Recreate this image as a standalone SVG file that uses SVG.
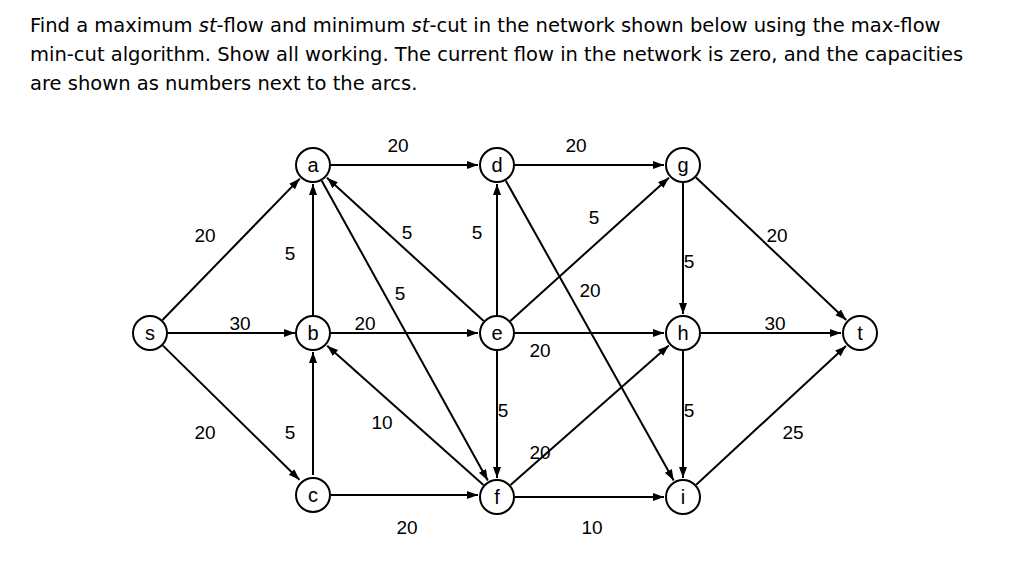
<svg xmlns="http://www.w3.org/2000/svg" width="1024" height="578" viewBox="0 0 1024 578">
<style>
.hd{font-family:"DejaVu Sans","Liberation Sans",sans-serif;font-size:19.5px;fill:#000}
.n circle{fill:#fff;stroke:#000;stroke-width:2}
.n text{font-family:"Liberation Sans",Arial,sans-serif;font-size:20px;text-anchor:middle;dominant-baseline:central}
.lb{font-family:"Liberation Sans",Arial,sans-serif;font-size:19px;text-anchor:middle}
#edges line{stroke:#000;stroke-width:2;marker-end:url(#ah)}
</style>
<defs><marker id="ah" markerUnits="userSpaceOnUse" markerWidth="12" markerHeight="10" refX="11" refY="4" orient="auto"><path d="M0,0 L11,4 L0,8 z" fill="#000"/></marker></defs>
<rect width="1024" height="578" fill="#fff"/>
<text class="hd" x="30" y="32">Find a maximum <tspan font-style="italic">st</tspan>-flow and minimum <tspan font-style="italic">st</tspan>-cut in the network shown below using the max-flow</text>
<text class="hd" x="30" y="61">min-cut algorithm. Show all working. The current flow in the network is zero, and the capacities</text>
<text class="hd" x="30" y="90">are shown as numbers next to the arcs.</text>
<g id="edges">
<line x1="162.5" y1="320" x2="299.8" y2="178.6"/>
<line x1="168" y1="333" x2="295" y2="333"/>
<line x1="162.9" y1="345.6" x2="299.4" y2="479.7"/>
<line x1="331" y1="165" x2="478" y2="165"/>
<line x1="515" y1="165" x2="664" y2="165"/>
<line x1="696" y1="177.4" x2="846.2" y2="319.9"/>
<line x1="701" y1="333" x2="841" y2="333"/>
<line x1="696.2" y1="484.8" x2="846" y2="345.9"/>
<line x1="313" y1="315" x2="313" y2="184"/>
<line x1="313" y1="475" x2="313" y2="352"/>
<line x1="321.7" y1="180.7" x2="487.8" y2="480.4"/>
<line x1="483.5" y1="485" x2="327.2" y2="345.7"/>
<line x1="483.7" y1="320.9" x2="327" y2="177.8"/>
<line x1="331" y1="333" x2="478" y2="333"/>
<line x1="497" y1="315" x2="497" y2="184"/>
<line x1="510.3" y1="321" x2="668.9" y2="177.7"/>
<line x1="515" y1="333" x2="664" y2="333"/>
<line x1="497" y1="351" x2="497" y2="478"/>
<line x1="505.8" y1="180.7" x2="673.7" y2="480.4"/>
<line x1="510.5" y1="485.1" x2="668.8" y2="345.6"/>
<line x1="331" y1="495" x2="478" y2="495"/>
<line x1="515" y1="497" x2="664" y2="497"/>
<line x1="683" y1="183" x2="683" y2="314"/>
<line x1="683" y1="351" x2="683" y2="478"/>
</g>
<g id="labels">
<text class="lb" x="398" y="152">20</text><text class="lb" x="576" y="152">20</text>
<text class="lb" x="205" y="242">20</text><text class="lb" x="290" y="260">5</text>
<text class="lb" x="407" y="239">5</text><text class="lb" x="477" y="239">5</text>
<text class="lb" x="594" y="224">5</text><text class="lb" x="777" y="242">20</text>
<text class="lb" x="689" y="268">5</text><text class="lb" x="400" y="300">5</text>
<text class="lb" x="590" y="297">20</text><text class="lb" x="240" y="330">30</text>
<text class="lb" x="365" y="330">20</text><text class="lb" x="540" y="357">20</text>
<text class="lb" x="775" y="330">30</text><text class="lb" x="205" y="439">20</text>
<text class="lb" x="290" y="439">5</text><text class="lb" x="382" y="429">10</text>
<text class="lb" x="503" y="417">5</text><text class="lb" x="540" y="459">20</text>
<text class="lb" x="689" y="417">5</text><text class="lb" x="793" y="439">25</text>
<text class="lb" x="407" y="534">20</text><text class="lb" x="592" y="534">10</text>
</g>
<g id="s" class="n"><circle cx="150" cy="333" r="17"/><text x="150" y="333">s</text></g>
<g id="a" class="n"><circle cx="313" cy="165" r="17"/><text x="313" y="165">a</text></g>
<g id="b" class="n"><circle cx="313" cy="333" r="17"/><text x="313" y="333">b</text></g>
<g id="c" class="n"><circle cx="313" cy="495" r="17"/><text x="313" y="495">c</text></g>
<g id="d" class="n"><circle cx="497" cy="165" r="17"/><text x="497" y="165">d</text></g>
<g id="e" class="n"><circle cx="497" cy="333" r="17"/><text x="497" y="333">e</text></g>
<g id="f" class="n"><circle cx="497" cy="497" r="17"/><text x="497" y="497">f</text></g>
<g id="g" class="n"><circle cx="683" cy="165" r="17"/><text x="683" y="165">g</text></g>
<g id="h" class="n"><circle cx="683" cy="333" r="17"/><text x="683" y="333">h</text></g>
<g id="i" class="n"><circle cx="683" cy="497" r="17"/><text x="683" y="497">i</text></g>
<g id="t" class="n"><circle cx="860" cy="333" r="17"/><text x="860" y="333">t</text></g>
</svg>
